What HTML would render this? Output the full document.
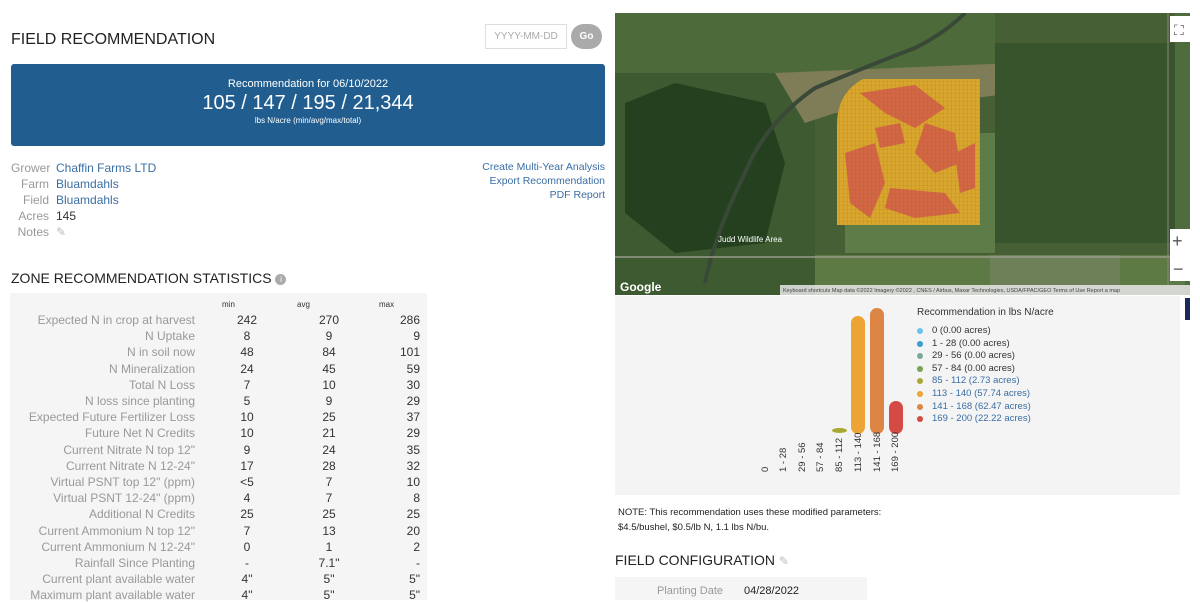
<!DOCTYPE html>
<html><head><meta charset="utf-8">
<style>
*{margin:0;padding:0;box-sizing:border-box}
body{width:1200px;height:600px;overflow:hidden;background:#fff;font-family:"Liberation Sans",sans-serif;position:relative;color:#333}
.a{position:absolute;white-space:nowrap}
.lnk{color:#3a6ea5}
.row{position:absolute;left:10px;width:417px;height:16px;font-size:12px;line-height:16px}
.row span{position:absolute}
.l{right:232px;color:#999;text-align:right}
.c1{left:217px;width:40px;text-align:center}
.c2{left:299px;width:40px;text-align:center}
.c3{left:370px;width:40px;text-align:right}
.lg{position:absolute;left:917px;font-size:9.5px;line-height:12px}
.lg i{position:absolute;left:0;top:3px;width:6px;height:6px;border-radius:50%}
.lg span{margin-left:15px}
.xl{position:absolute;font-size:9.5px;transform:rotate(-90deg);transform-origin:left top;color:#333}
</style></head><body>
<div class="a" style="left:11px;top:31px;font-size:16px;color:#222">FIELD RECOMMENDATION</div>
<div class="a" style="left:485px;top:24px;width:82px;height:25px;border:1px solid #ddd;font-size:10px;color:#aaa;line-height:23px;text-align:center">YYYY-MM-DD</div>
<div class="a" style="left:571px;top:24px;width:31px;height:25px;border-radius:13px;background:#aaa;color:#fff;font-size:10px;line-height:25px;text-align:center;font-weight:bold">Go</div>
<div class="a" style="left:11px;top:64px;width:594px;height:82px;background:#215e8f;border-radius:3px;color:#fff;text-align:center">
<div style="font-size:11px;margin-top:14px">Recommendation for 06/10/2022</div>
<div style="font-size:20px;margin-top:2px">105 / 147 / 195 / 21,344</div>
<div style="font-size:8px;margin-top:1px">lbs N/acre (min/avg/max/total)</div>
</div>
<div class="a" style="left:11px;top:160px;font-size:12px;line-height:16px;text-align:right;width:38px;color:#999">Grower<br>Farm<br>Field<br>Acres<br>Notes</div>
<div class="a" style="left:56px;top:160px;font-size:12px;line-height:16px"><span class="lnk">Chaffin Farms LTD</span><br><span class="lnk">Bluamdahls</span><br><span class="lnk">Bluamdahls</span><br>145<br><span style="color:#bbb">✎</span></div>
<div class="a" style="right:595px;top:160px;font-size:10.5px;line-height:14px;text-align:right" ><span class="lnk">Create Multi-Year Analysis</span><br><span class="lnk">Export Recommendation</span><br><span class="lnk">PDF Report</span></div>
<div class="a" style="left:11px;top:270px;font-size:14px;color:#222">ZONE RECOMMENDATION STATISTICS <span style="display:inline-block;width:11px;height:11px;border-radius:50%;background:#aaa;color:#fff;font-size:8px;text-align:center;line-height:11px;vertical-align:1px">i</span></div>
<div class="a" style="left:10px;top:293px;width:417px;height:307px;background:#f5f5f5"></div>
<div class="row" style="top:297px;font-size:8px"><span style="left:212px">min</span><span style="left:287px">avg</span><span style="left:369px">max</span></div>
<div class="row" style="top:312px"><span class="l">Expected N in crop at harvest</span><span class="c1">242</span><span class="c2">270</span><span class="c3">286</span></div>
<div class="row" style="top:328px"><span class="l">N Uptake</span><span class="c1">8</span><span class="c2">9</span><span class="c3">9</span></div>
<div class="row" style="top:344px"><span class="l">N in soil now</span><span class="c1">48</span><span class="c2">84</span><span class="c3">101</span></div>
<div class="row" style="top:361px"><span class="l">N Mineralization</span><span class="c1">24</span><span class="c2">45</span><span class="c3">59</span></div>
<div class="row" style="top:377px"><span class="l">Total N Loss</span><span class="c1">7</span><span class="c2">10</span><span class="c3">30</span></div>
<div class="row" style="top:393px"><span class="l">N loss since planting</span><span class="c1">5</span><span class="c2">9</span><span class="c3">29</span></div>
<div class="row" style="top:409px"><span class="l">Expected Future Fertilizer Loss</span><span class="c1">10</span><span class="c2">25</span><span class="c3">37</span></div>
<div class="row" style="top:425px"><span class="l">Future Net N Credits</span><span class="c1">10</span><span class="c2">21</span><span class="c3">29</span></div>
<div class="row" style="top:442px"><span class="l">Current Nitrate N top 12"</span><span class="c1">9</span><span class="c2">24</span><span class="c3">35</span></div>
<div class="row" style="top:458px"><span class="l">Current Nitrate N 12-24"</span><span class="c1">17</span><span class="c2">28</span><span class="c3">32</span></div>
<div class="row" style="top:474px"><span class="l">Virtual PSNT top 12" (ppm)</span><span class="c1">&lt;5</span><span class="c2">7</span><span class="c3">10</span></div>
<div class="row" style="top:490px"><span class="l">Virtual PSNT 12-24" (ppm)</span><span class="c1">4</span><span class="c2">7</span><span class="c3">8</span></div>
<div class="row" style="top:506px"><span class="l">Additional N Credits</span><span class="c1">25</span><span class="c2">25</span><span class="c3">25</span></div>
<div class="row" style="top:523px"><span class="l">Current Ammonium N top 12"</span><span class="c1">7</span><span class="c2">13</span><span class="c3">20</span></div>
<div class="row" style="top:539px"><span class="l">Current Ammonium N 12-24"</span><span class="c1">0</span><span class="c2">1</span><span class="c3">2</span></div>
<div class="row" style="top:555px"><span class="l">Rainfall Since Planting</span><span class="c1">-</span><span class="c2">7.1"</span><span class="c3">-</span></div>
<div class="row" style="top:571px"><span class="l">Current plant available water</span><span class="c1">4"</span><span class="c2">5"</span><span class="c3">5"</span></div>
<div class="row" style="top:587px"><span class="l">Maximum plant available water</span><span class="c1">4"</span><span class="c2">5"</span><span class="c3">5"</span></div>

<!-- map -->
<svg class="a" style="left:615px;top:13px" width="575" height="282" viewBox="0 0 575 282">
<defs><pattern id="g" width="4" height="4" patternUnits="userSpaceOnUse"><path d="M0 0H4M0 0V4" stroke="#8a6a20" stroke-width="0.6" opacity="0.5"/></pattern></defs>
<rect width="575" height="282" fill="#475f35"/>
<rect x="0" y="0" width="200" height="282" fill="#3e5a30"/>
<path d="M10 90 L60 70 L150 90 L170 150 L150 230 L60 240 L10 200Z" fill="#24401f"/>
<rect x="0" y="0" width="380" height="60" fill="#4d6b3a"/>
<path d="M160 60 L400 50 L400 80 L320 90 L220 100 L190 110Z" fill="#7e7d58"/>
<rect x="230" y="120" width="150" height="120" fill="#5e7c48"/>
<rect x="380" y="30" width="180" height="200" fill="#38542c"/>
<rect x="560" y="0" width="15" height="282" fill="#4e6c3e"/>
<rect x="200" y="242" width="370" height="40" fill="#5e7a44"/>
<rect x="375" y="242" width="130" height="40" fill="#6e8058"/>
<path d="M90 270 Q100 220 130 160 Q150 110 200 75 Q260 50 300 35 Q330 20 350 0" stroke="#3a4838" stroke-width="4" fill="none"/>
<line x1="0" y1="244" x2="575" y2="244" stroke="#9a9a8a" stroke-width="1.5"/>
<line x1="553" y1="0" x2="553" y2="282" stroke="#8a8a80" stroke-width="1"/>
<path d="M248 66 H365 V212 H222 V112 Q222 80 248 66Z" fill="#d9a62e"/>
<g fill="#d25b4a" opacity="0.85">
<path d="M245 80 L300 72 L330 95 L300 115 L270 100Z"/>
<path d="M310 110 L340 120 L345 150 L320 160 L300 140Z"/>
<path d="M230 140 L260 130 L270 170 L255 205 L235 190Z"/>
<path d="M275 175 L330 180 L345 200 L300 205 L270 195Z"/>
<path d="M340 140 L360 130 L360 175 L345 180Z"/>
<path d="M260 115 L285 110 L290 130 L265 135Z"/>
</g>
<path d="M248 66 H365 V212 H222 V112 Q222 80 248 66Z" fill="url(#g)"/>
<rect x="555" y="3" width="20" height="26" fill="#fff"/>
<text x="559" y="22" font-size="14" fill="#555">⛶</text>
<rect x="555" y="216" width="20" height="52" fill="#fff"/>
<text x="557" y="234" font-size="18" fill="#555">+</text>
<text x="558" y="262" font-size="18" fill="#555">−</text>
<text x="5" y="278" font-size="12" font-weight="bold" fill="#fff" font-family="Liberation Sans">Google</text>
<text x="103" y="229" font-size="8" fill="#fff" font-family="Liberation Sans">Judd Wildlife Area</text>
<rect x="165" y="272" width="410" height="10" fill="#e8e8e8" opacity="0.85"/>
<text x="168" y="279" font-size="5.5" fill="#444" font-family="Liberation Sans">Keyboard shortcuts    Map data ©2022 Imagery ©2022 , CNES / Airbus, Maxar Technologies, USDA/FPAC/GEO    Terms of Use    Report a map</text>
</svg>
<div class="a" style="left:1185px;top:298px;width:5px;height:22px;background:#1a2a5a"></div>

<!-- chart -->
<div class="a" style="left:615px;top:296px;width:565px;height:199px;background:#f4f4f4"></div>
<div class="a" style="left:832px;top:428px;width:15px;height:5px;border-radius:50%;background:#a9a832"></div>
<div class="a" style="left:851px;top:316px;width:14px;height:118px;border-radius:7px;background:#eca434"></div>
<div class="a" style="left:870px;top:308px;width:14px;height:126px;border-radius:7px;background:#dc8544"></div>
<div class="a" style="left:889px;top:401px;width:14px;height:33px;border-radius:7px;background:#d44a44"></div>
<div class="xl" style="left:760px;top:472px">0</div>
<div class="xl" style="left:778px;top:472px">1 - 28</div>
<div class="xl" style="left:797px;top:472px">29 - 56</div>
<div class="xl" style="left:815px;top:472px">57 - 84</div>
<div class="xl" style="left:834px;top:472px">85 - 112</div>
<div class="xl" style="left:853px;top:472px">113 - 140</div>
<div class="xl" style="left:872px;top:472px">141 - 168</div>
<div class="xl" style="left:890px;top:472px">169 - 200</div>
<div class="a" style="left:917px;top:307px;font-size:10px">Recommendation in lbs N/acre</div>
<div class="lg" style="top:325px"><i style="background:#6cc3ea"></i><span>0 (0.00 acres)</span></div>
<div class="lg" style="top:338px"><i style="background:#3a9ccf"></i><span>1 - 28 (0.00 acres)</span></div>
<div class="lg" style="top:350px"><i style="background:#7aa89a"></i><span>29 - 56 (0.00 acres)</span></div>
<div class="lg" style="top:363px"><i style="background:#7aa050"></i><span>57 - 84 (0.00 acres)</span></div>
<div class="lg lnk" style="top:375px"><i style="background:#a9a832"></i><span>85 - 112 (2.73 acres)</span></div>
<div class="lg lnk" style="top:388px"><i style="background:#eca434"></i><span>113 - 140 (57.74 acres)</span></div>
<div class="lg lnk" style="top:401px"><i style="background:#dc8544"></i><span>141 - 168 (62.47 acres)</span></div>
<div class="lg lnk" style="top:413px"><i style="background:#d44a44"></i><span>169 - 200 (22.22 acres)</span></div>
<div class="a" style="left:618px;top:505px;font-size:9.5px;line-height:15px;color:#222">NOTE: This recommendation uses these modified parameters:<br>$4.5/bushel, $0.5/lb N, 1.1 lbs N/bu.</div>
<div class="a" style="left:615px;top:552px;font-size:14px;color:#222">FIELD CONFIGURATION <span style="color:#bbb;font-size:12px">✎</span></div>
<div class="a" style="left:615px;top:577px;width:252px;height:23px;background:#f5f5f5"></div>
<div class="a" style="left:657px;top:585px;font-size:11px;color:#999">Planting Date</div>
<div class="a" style="left:744px;top:585px;font-size:11px;color:#222">04/28/2022</div>
</body></html>
